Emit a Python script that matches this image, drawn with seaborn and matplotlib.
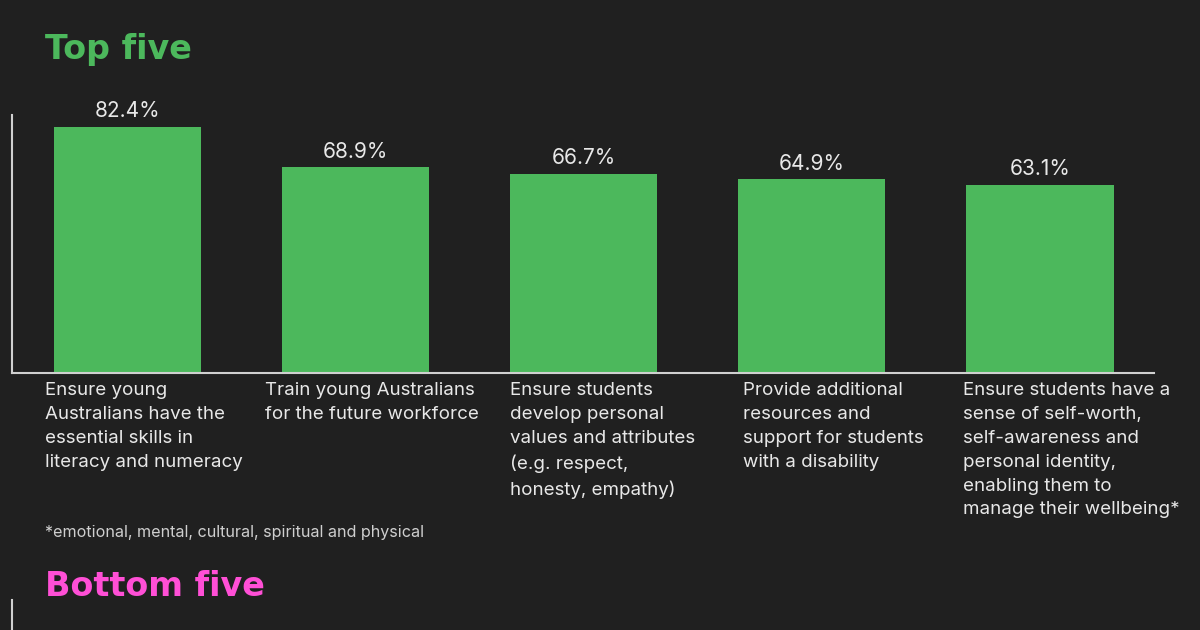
import pandas as pd
import numpy as np
import matplotlib.pyplot as plt
import seaborn as sns

# values
categories = [
    "Ensure young\nAustralians have the\nessential skills in\nliteracy and numeracy",
    "Train young Australians\nfor the future workforce",
    "Ensure students\ndevelop personal\nvalues and attributes\n(e.g. respect,\nhonesty, empathy)",
    "Provide additional\nresources and\nsupport for students\nwith a disability",
    "Ensure students have a\nsense of self-worth,\nself-awareness and\npersonal identity,\nenabling them to\nmanage their wellbeing*",
]
percent = [82.4, 68.9, 66.7, 64.9, 63.1]
title_top = "Top five"
title_bottom = "Bottom five"
footnote = "*emotional, mental, cultural, spiritual and physical"

BG = "#202020"
GREEN = "#4cb85c"
PINK = "#ff4fd6"
TXT = "#e8e8e8"

sns.set_theme(style="white")
plt.rcParams['font.family'] = ['Inter', 'DejaVu Sans']

df = pd.DataFrame({"cat": categories, "pct": percent})

fig = plt.figure(figsize=(12, 6.3), dpi=100, facecolor=BG)
ax = fig.add_axes([0.01, 0.408, 0.9517, 0.4095])
ax.set_facecolor(BG)

sns.barplot(data=df, x="cat", y="pct", color=GREEN, saturation=1, width=0.645,
            linewidth=0, ax=ax)
ax.set_xlim(-0.507, 4.5)
ax.set_ylim(0, 86.4)
ax.bar_label(ax.containers[0], fmt="%.1f%%", padding=4, color=TXT, fontsize=15)

ax.set_xlabel("")
ax.set_ylabel("")
ax.set_xticks([])
ax.set_yticks([])
for s in ["top", "right"]:
    ax.spines[s].set_visible(False)
for s in ["left", "bottom"]:
    ax.spines[s].set_color("#d0d0d0")
    ax.spines[s].set_linewidth(1.5)

# wrapped category labels, left aligned under each bar
nudge = [-0.362, -0.397, -0.322, -0.300, -0.338]
trans = ax.get_xaxis_transform()
for i, lab in enumerate(categories):
    ax.text(i + nudge[i], -0.035, lab, transform=trans, ha="left", va="top",
            color=TXT, fontsize=13.5, linespacing=1.53)

fig.text(45 / 1200, 1 - 49 / 630, title_top, color=GREEN, fontsize=24,
         fontweight="bold", family="DejaVu Sans", va="center", ha="left")
fig.text(45 / 1200, 1 - 533 / 630, footnote, color="#cfcfcf", fontsize=11.6,
         va="center", ha="left")
fig.text(45 / 1200, 1 - 587 / 630, title_bottom, color=PINK, fontsize=24,
         fontweight="bold", family="DejaVu Sans", va="center", ha="left")

# start of the second chart, cut off by the image edge
ax2 = fig.add_axes([0.01, -0.3, 0.9517, 0.3476])
ax2.set_facecolor(BG)
ax2.set_xticks([])
ax2.set_yticks([])
for s in ["top", "right", "bottom"]:
    ax2.spines[s].set_visible(False)
ax2.spines["left"].set_color("#d0d0d0")
ax2.spines["left"].set_linewidth(1.5)

fig.savefig("out.png", dpi=100, facecolor=BG)
